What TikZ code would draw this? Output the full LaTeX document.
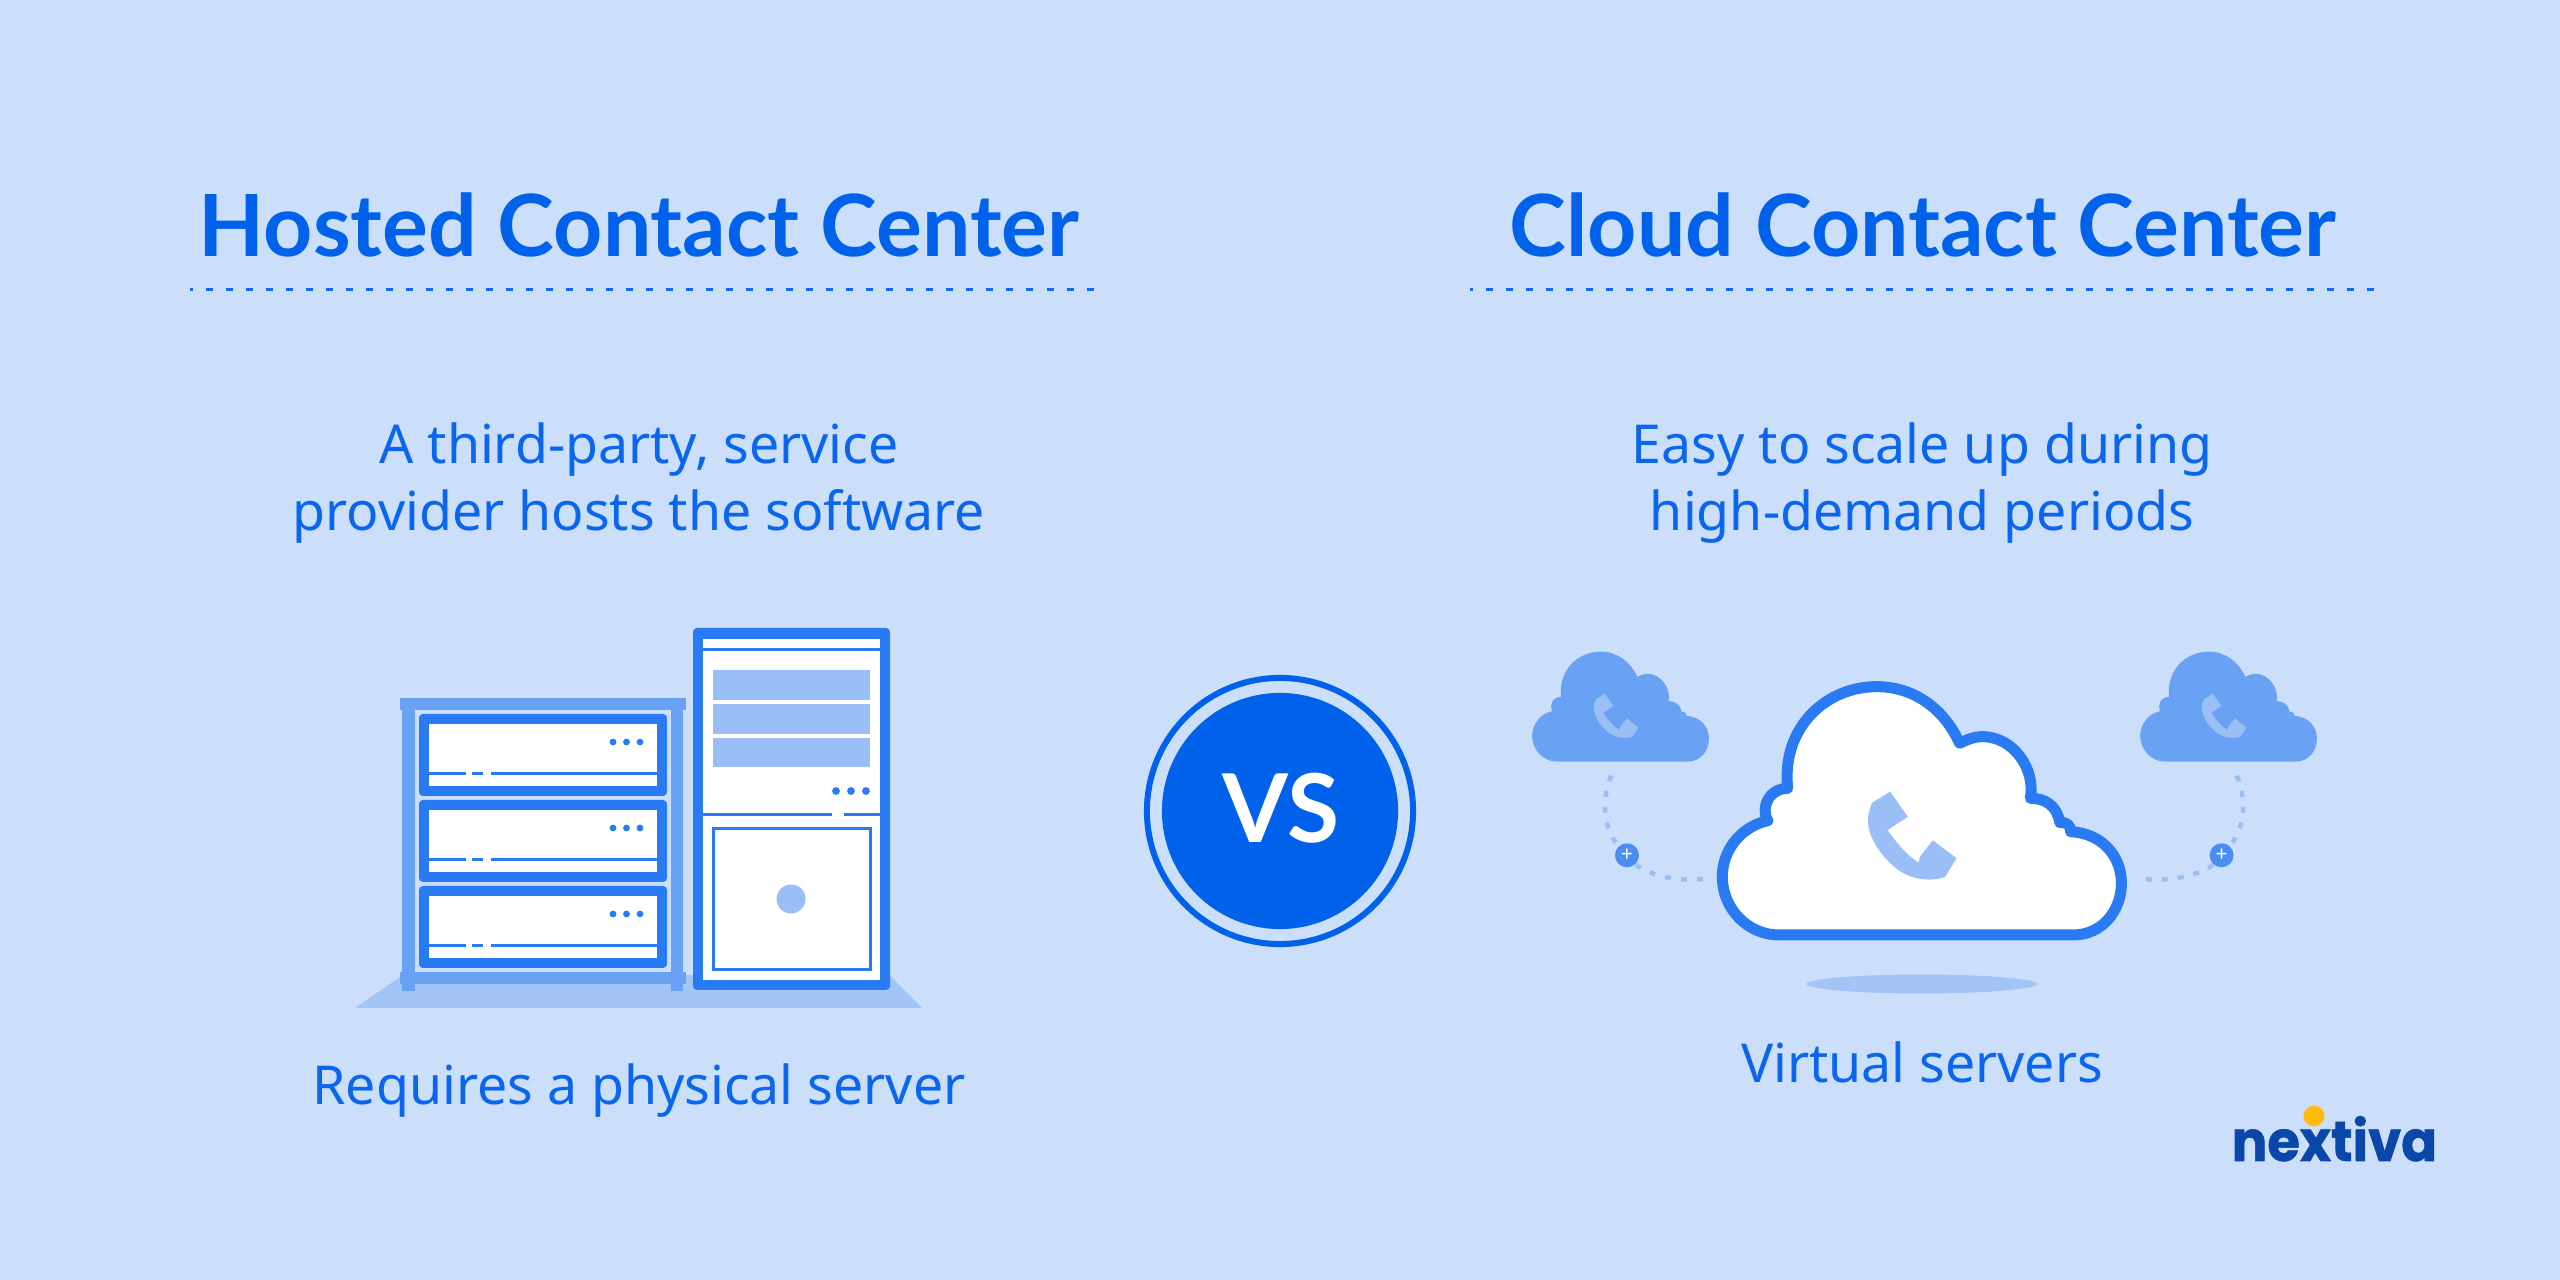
\documentclass[tikz,border=0pt]{standalone}
\usepackage{fontspec}
\setmainfont{Noto Sans}
\newfontfamily\headfont{Lato}
\newfontfamily\logofont[UprightFont=* Bold,FakeStretch=0.94,FakeBold=1]{Poppins}
\definecolor{bgc}{HTML}{CBDFFA}
\definecolor{titlec}{HTML}{0061EB}
\definecolor{bodyc}{HTML}{0A66EE}
\definecolor{edgec}{HTML}{2A7AF3}
\definecolor{dashc}{HTML}{0F6CF0}
\definecolor{rackc}{HTML}{69A1F5}
\definecolor{floorc}{HTML}{A3C4F6}
\definecolor{softc}{HTML}{9ABEF6}
\definecolor{plusc}{HTML}{4C8DF0}
\definecolor{logoc}{HTML}{0A47A9}
\definecolor{sunc}{HTML}{FFBC0D}
\tikzset{
  titletext/.style={text=titlec,font=\headfont\fontsize{24.4}{30}\selectfont\bfseries,inner sep=0pt,anchor=base},
  bodytext/.style={text=bodyc,font=\fontsize{15.25}{19}\selectfont,inner sep=0pt,anchor=base},
  titlerule/.style={dashc,line width=0.3mm,dash pattern=on 0.7mm off 1.3mm,dash phase=0.4mm},
  arcdash/.style={softc,line width=0.45mm,dash pattern=on 0.6mm off 1.0mm},
  cloudshape/.style={insert path={(520,915) -- (1070,915) .. controls (1125,915) and (1160,840) .. (1160,760) .. controls (1160,680) and (1125,610) .. (1065,605) .. controls (1068,590) and (1055,572) .. (1045,578) .. controls (1040,530) and (1020,505) .. (990,505) .. controls (1000,420) and (960,320) .. (900,320) .. controls (885,320) and (870,330) .. (858,340) .. controls (830,240) and (775,170) .. (703,170) .. controls (610,170) and (525,290) .. (537,475) .. controls (510,475) and (495,510) .. (495,540) .. controls (495,555) and (497,565) .. (500,572) .. controls (450,590) and (415,660) .. (415,740) .. controls (415,840) and (465,915) .. (520,915) -- cycle}},
  phoneshape/.style={insert path={(695,520) -- (728,487) -- (760,560) -- (722,600) .. controls (740,640) and (760,680) .. (782,700) -- (785,680) -- (808,633) -- (851,685) -- (830,740) .. controls (800,755) and (770,745) .. (750,725) .. controls (720,695) and (690,630) .. (688,580) .. controls (687,560) and (690,540) .. (695,520) -- cycle}},
}
\begin{document}
\begin{tikzpicture}[x=0.01cm,y=-0.01cm]
\useasboundingbox (0,0) rectangle (2560,1280);
\fill[bgc] (0,0) rectangle (2560,1280);
% titles
\node[titletext] (t1) at (639,257) {Hosted Contact Center};
\node[titletext] (t2) at (1923,257) {Cloud Contact Center};
\coordinate (r1a) at (190,290); \coordinate (r1b) at (1094,290);
\coordinate (r2a) at (1470,290); \coordinate (r2b) at (2374,290);
\draw[titlerule] (r1a) -- (r1b);
\draw[titlerule] (r2a) -- (r2b);
% body
\node[bodytext] (b1) at (639,464) {A third-party, service};
\node[bodytext] (b2) at (639,531) {provider hosts the software};
\node[bodytext] (b3) at (1922,464) {Easy to scale up during};
\node[bodytext] (b4) at (1922,531) {high-demand periods};
\node[bodytext] (b5) at (639,1105) {Requires a physical server};
\node[bodytext] (b6) at (1922,1083) {Virtual servers};
% floor
\fill[floorc] (355,1008) -- (403,975) -- (889,975) -- (922,1008) -- cycle;
% rack
\fill[rackc] (400,698) rectangle (686,710);
\fill[rackc] (402,710) rectangle (415,991);
\fill[rackc] (671,710) rectangle (683,991);
\fill[rackc] (400,972) rectangle (686,984);
% servers
\foreach \t in {714,800,886}{
  \fill[edgec,rounded corners=0.4mm] (419,\t) rectangle (667,\t+82);
  \fill[white] (429,\t+10) rectangle (657,\t+72);
  \fill[edgec] (429,\t+58.5) rectangle (466,\t+61.5);
  \fill[edgec] (472,\t+58.5) rectangle (483,\t+61.5);
  \fill[edgec] (491,\t+58.5) rectangle (657,\t+61.5);
  \foreach \x in {613,626.5,640}{\fill[edgec] (\x,\t+28) circle[radius=3.4];}
}
% tower
\fill[edgec,rounded corners=0.4mm] (693,628) rectangle (890,990);
\fill[white] (703,639) rectangle (880,980);
\fill[edgec] (703,648.5) rectangle (880,651.5);
\fill[softc] (713,670) rectangle (870,700);
\fill[softc] (713,704) rectangle (870,734);
\fill[softc] (713,738) rectangle (870,767);
\foreach \x in {836,851,866}{\fill[edgec] (\x,791) circle[radius=3.9];}
\fill[edgec] (703,813.5) rectangle (832,816.5);
\fill[edgec] (844,813.5) rectangle (880,816.5);
\draw[edgec,line width=0.25mm] (713.5,828.5) rectangle (870.5,969.5);
\fill[softc] (791,899) circle[radius=14.5];
% vs
\node[circle,draw=titlec,line width=0.6mm,fill=none,minimum size=2.66cm,inner sep=0pt] (vsring) at (1280,811) {};
\node[circle,fill=titlec,minimum size=2.36cm,inner sep=0pt] (vsdisc) at (1280,811) {};
\node[text=white,inner sep=0pt,anchor=base,font=\headfont\fontsize{27}{30}\selectfont\bfseries] (vs) at (1281,843) {VS};
% shadow
\fill[floorc] (1921.5,984) ellipse[x radius=115,y radius=9.5];
% clouds
\begin{scope}[shift={(1500,630)},xscale=0.5357,yscale=0.3333]
  \path[cloudshape,draw=edgec,fill=white,line width=1.1mm,line join=round];
  \path[phoneshape,fill=softc,draw=softc,line width=0.1mm,line join=round];
  \foreach \cx/\px in {60/217,1195/1352}{
    \begin{scope}[shift={(\cx,65)},scale=0.443,shift={(-415,-170)}]
      \path[cloudshape,fill=rackc];
    \end{scope}
    \begin{scope}[shift={(\px,258)},scale=0.51,shift={(-770,-618)}]
      \path[phoneshape,fill=softc];
    \end{scope}
  }
  \node[circle,fill=plusc,minimum size=0.24cm,inner sep=0pt,text=white] (p1) at (237,676) {};
  \node[circle,fill=plusc,minimum size=0.24cm,inner sep=0pt,text=white] (p2) at (1347,676) {};
  \node[font=\fontsize{6}{6}\selectfont\bfseries,text=white,inner sep=0pt] (p1t) at (p1) {+};
  \node[font=\fontsize{6}{6}\selectfont\bfseries,text=white,inner sep=0pt] (p2t) at (p2) {+};
  \coordinate (a1) at (208,437); \coordinate (a2) at (385,745);
  \coordinate (a3) at (1375,437); \coordinate (a4) at (1195,745);
  \draw[arcdash] (a1) .. controls (190,500) and (190,590) .. (p1);
  \draw[arcdash] (p1) .. controls (270,730) and (330,760) .. (a2);
  \draw[arcdash] (a3) .. controls (1393,500) and (1393,590) .. (p2);
  \draw[arcdash] (p2) .. controls (1315,730) and (1250,760) .. (a4);
\end{scope}
% logo
\fill[sunc] (2314,1116) circle[radius=10.5];
\node[anchor=base west,inner sep=0pt,text=logoc,font=\logofont\fontsize{16}{18}\selectfont] (logo) at (2231,1161) {nextiva};
\end{tikzpicture}
\end{document}
